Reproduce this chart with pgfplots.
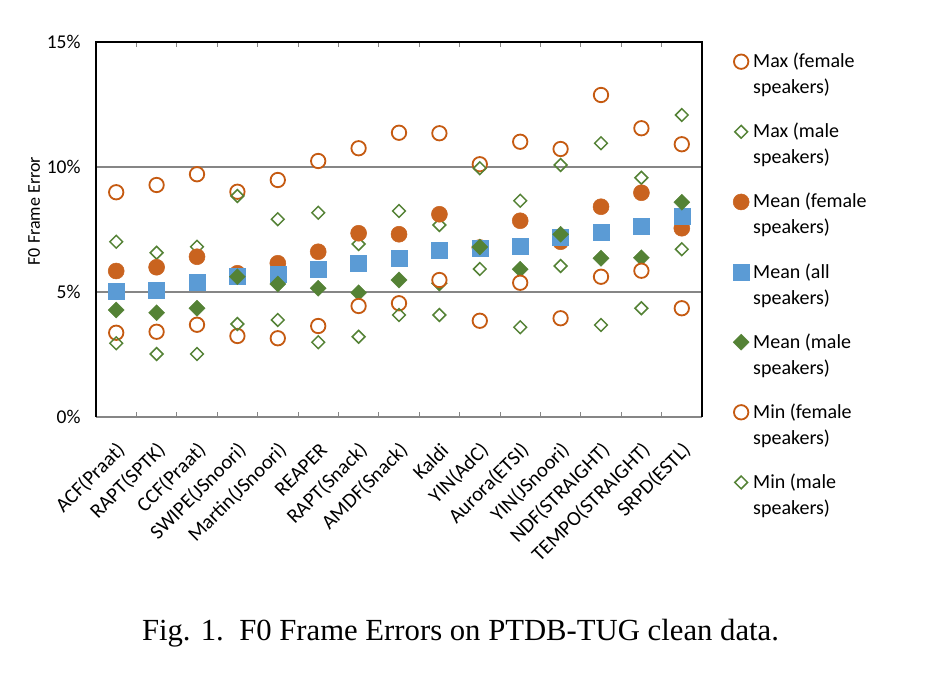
\documentclass[border=0pt]{standalone}
\usepackage{pgfplots}
\pgfplotsset{compat=1.18}
\usepackage{pgfplotstable}
\usepackage{fontspec}
\setmainfont{Carlito}
\newfontfamily\timesf{Liberation Serif}
\definecolor{cOr}{HTML}{C55A11}
\definecolor{cOrF}{HTML}{C9631F}
\definecolor{cBl}{HTML}{5B9BD5}
\definecolor{cGr}{HTML}{548235}
\definecolor{cGrid}{HTML}{868686}

\pgfplotstableread{
x maxf maxm meanf meanall meanm minf minm
0  8.99 7.01 5.84 5.05 4.28 3.37 2.95
1  9.28 6.57 5.99 5.08 4.17 3.41 2.52
2  9.71 6.81 6.41 5.39 4.35 3.69 2.52
3  9.01 8.84 5.75 5.65 5.61 3.24 3.72
4  9.48 7.91 6.15 5.72 5.32 3.15 3.88
5  10.24 8.17 6.61 5.91 5.15 3.64 2.99
6  10.75 6.92 7.35 6.15 4.97 4.44 3.21
7  11.37 8.24 7.31 6.37 5.48 4.55 4.08
8  11.35 7.68 8.11 6.68 5.35 5.48 4.08
9  10.11 9.95 6.78 6.75 6.80 3.85 5.92
10 11.01 8.65 7.85 6.85 5.91 5.37 3.59
11 10.72 10.08 7.01 7.19 7.31 3.95 6.04
12 12.88 10.95 8.41 7.39 6.35 5.61 3.68
13 11.55 9.57 8.97 7.65 6.37 5.85 4.35
14 10.91 12.08 7.55 8.05 8.59 4.35 6.71
}\datatable

\begin{document}
\begin{tikzpicture}[x=1pt,y=1pt]
\useasboundingbox[fill=white] (0,0) rectangle (928,672);
\begin{axis}[
  at={(96pt,255pt)}, anchor=south west,
  scale only axis, width=606pt, height=375pt,
  xmin=-0.5, xmax=14.5, ymin=0, ymax=15,
  xtick={0,...,14},
  xticklabels={ACF(Praat),RAPT(SPTK),CCF(Praat),SWIPE(JSnoori),Martin(JSnoori),REAPER,RAPT(Snack),AMDF(Snack),Kaldi,YIN(AdC),Aurora(ETSI),YIN(JSnoori),NDF(STRAIGHT),TEMPO(STRAIGHT),SRPD(ESTL)},
  major x tick style={draw=none},
  minor xtick={0.5,1.5,...,13.5},
  minor x tick style={draw=cGrid, line width=0.8pt},
  minor tick length=5pt,
  ytick={0,5,10,15},
  major y tick style={draw=none},
  yticklabel={\pgfmathprintnumber{\tick}\%},
  /pgf/number format/assume math mode=true,
  ymajorgrids, grid style={draw=cGrid, line width=1.2pt},
  axis line style={draw=none},
  tick label style={font=\fontsize{19.5}{22}\selectfont},
  xticklabel style={xshift=5.5pt, yshift=-30pt, rotate=45, anchor=east, inner sep=0pt, font=\fontsize{20.5}{22}\selectfont},
  yticklabel style={xshift=-12pt},
  ylabel={F0 Frame Error},
  ylabel style={at={(axis description cs:-0.102,0.549)}, anchor=center, font=\fontsize{18}{20}\selectfont},
  legend cell align=left,
  legend style={at={(axis description cs:1.051,0.971)}, anchor=north west, draw=none, fill=none,
    font=\fontsize{20}{26}\selectfont, row sep=28pt, inner sep=0pt,
    nodes={inner sep=0pt, align=left, anchor=base west}, column sep=4pt},
  legend image post style={yshift=32pt},
  after end axis/.code={
    \draw[cGrid, line width=1.5pt] (rel axis cs:0,0) -- (rel axis cs:1,0);
    \draw[black, line width=2.2pt] (rel axis cs:0,0) -- (rel axis cs:0,1) -- (rel axis cs:1,1) -- (rel axis cs:1,0);
  },
  clip=false,
]
\addplot[only marks, mark=*, mark size=7.2pt, mark options={draw=cOr, fill=white, line width=1.8pt}] table[x=x,y=maxf]{\datatable};
\addlegendentry{Max (female\\speakers)}
\addplot[only marks, mark=square, mark size=4.5pt, mark options={draw=cGr, fill=white, line width=1.5pt, rotate=45}] table[x=x,y=maxm]{\datatable};
\addlegendentry{Max (male\\speakers)}
\addplot[only marks, mark=*, mark size=8pt, mark options={draw=cOrF, fill=cOrF, line width=0.5pt}] table[x=x,y=meanf]{\datatable};
\addlegendentry{Mean (female\\speakers)}
\addplot[only marks, mark=square*, mark size=8pt, mark options={draw=cBl, fill=cBl, line width=0.3pt}] table[x=x,y=meanall]{\datatable};
\addlegendentry{Mean (all\\speakers)}
\addplot[only marks, mark=square*, mark size=5.7pt, mark options={draw=cGr, fill=cGr, line width=0.3pt, rotate=45}] table[x=x,y=meanm]{\datatable};
\addlegendentry{Mean (male\\speakers)}
\addplot[only marks, mark=*, mark size=7.2pt, mark options={draw=cOr, fill=white, line width=1.8pt}] table[x=x,y=minf]{\datatable};
\addlegendentry{Min (female\\speakers)}
\addplot[only marks, mark=square, mark size=4.5pt, mark options={draw=cGr, fill=white, line width=1.5pt, rotate=45}] table[x=x,y=minm]{\datatable};
\addlegendentry{Min (male\\speakers)}
\end{axis}
\node[anchor=base, font=\timesf\fontsize{30.7}{34}\selectfont] at (460.5,32) {Fig. 1.\ \ F0 Frame Errors on PTDB-TUG clean data.};
\end{tikzpicture}
\end{document}
